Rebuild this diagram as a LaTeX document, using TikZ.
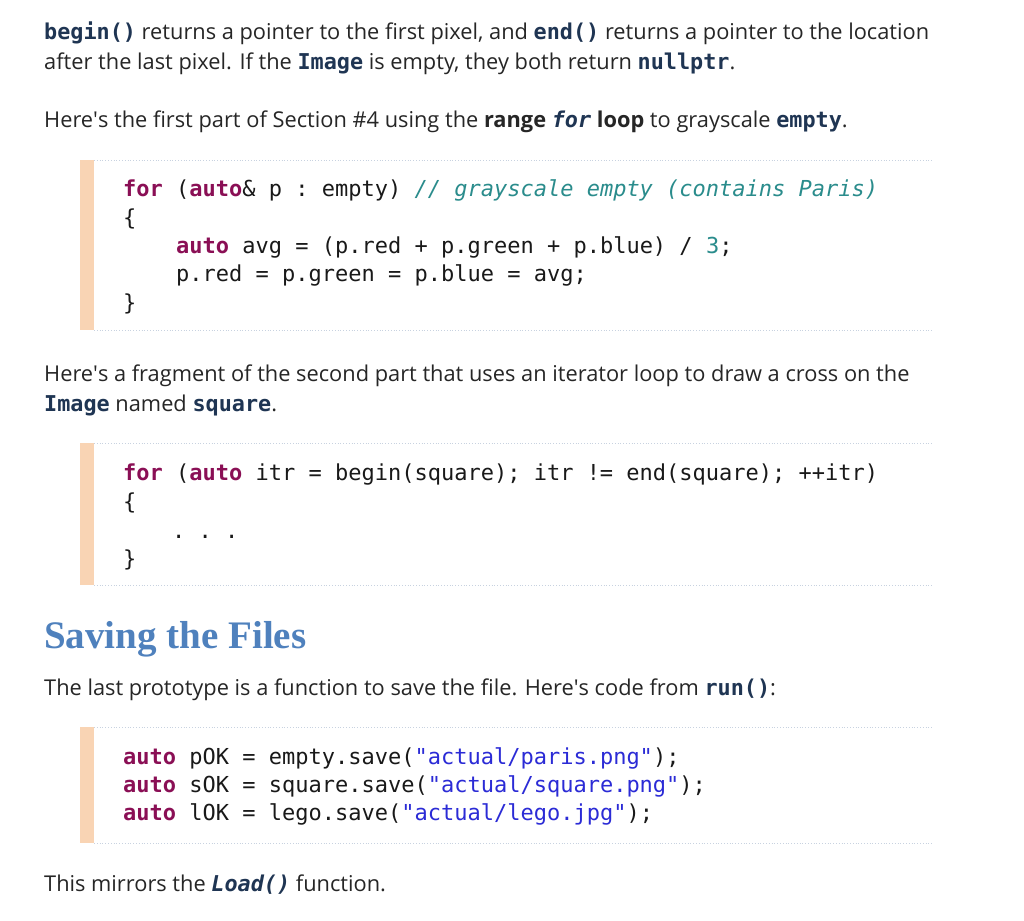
\documentclass[tikz,border=0pt]{standalone}
\usepackage{fontspec}
\setmainfont{Open Sans}
\setmonofont{DejaVu Sans Mono}
\newfontfamily\headfont{Liberation Serif}
\definecolor{kwc}{HTML}{8A0F55}
\definecolor{cmc}{HTML}{2A8C8C}
\definecolor{stc}{HTML}{2B2BD6}
\definecolor{icc}{HTML}{1F3553}
\definecolor{hdc}{HTML}{4F81BD}
\definecolor{barc}{HTML}{F9D4B4}
\definecolor{rulec}{HTML}{C8D2E0}
\newcommand{\kw}[1]{\textcolor{kwc}{\bfseries #1}}
\newcommand{\cm}[1]{\textcolor{cmc}{\itshape #1}}
\newcommand{\st}[1]{\textcolor{stc}{#1}}
\newcommand{\ic}[1]{\textcolor{icc}{\ttfamily\bfseries #1}}
\tikzset{
  body/.style={anchor=base west,inner sep=0pt,font=\fontsize{21.8}{26}\selectfont,text=black!85},
  code/.style={anchor=base west,inner sep=0pt,font=\ttfamily\fontsize{22}{26}\selectfont,text=black!90},
  bar/.style={fill=barc,draw=none},
  rul/.style={draw=rulec,line width=0.8pt,dotted},
}
\begin{document}
\begin{tikzpicture}[x=1pt,y=-1pt]
\useasboundingbox[fill=white] (0,0) rectangle (1024,920);
\node[body] (t1) at (44,40) {\ic{begin()} returns a pointer to the first pixel, and \ic{end()} returns a pointer to the location};
\node[body] (t2) at (44,70) {after the last pixel. If the \ic{Image} is empty, they both return \ic{nullptr}.};
\node[body] (t3) at (44,128) {Here\textquotesingle s the first part of Section \#4 using the \textbf{range \textcolor{icc}{\ttfamily\bfseries\itshape for} loop} to grayscale \ic{empty}.};
% box 1
\fill[bar] (80,160) rectangle (94,330);
\draw[rul] (94,160) -- (932,160);
\draw[rul] (94,330) -- (932,330);
\node[code] (c1) at (123,196) {\kw{for} (\kw{auto}\& p : empty) \cm{// grayscale empty (contains Paris)}};
\node[code] (c2) at (123,225) {\{};
\node[code] (c3) at (176,253) {\kw{auto} avg = (p.red + p.green + p.blue) / \textcolor{cmc}{3};};
\node[code] (c4) at (176,281) {p.red = p.green = p.blue = avg;};
\node[code] (c5) at (123,310) {\}};
\node[body] (t4) at (44,381) {Here\textquotesingle s a fragment of the second part that uses an iterator loop to draw a cross on the};
\node[body] (t5) at (44,411) {\ic{Image} named \ic{square}.};
% box 2
\fill[bar] (80,443) rectangle (94,585);
\draw[rul] (94,443) -- (932,443);
\draw[rul] (94,585) -- (932,585);
\node[code] (d1) at (123,480) {\kw{for} (\kw{auto} itr = begin(square); itr != end(square); ++itr)};
\node[code] (d2) at (123,509) {\{};
\node[code] (d3) at (172,538) {. . .};
\node[code] (d4) at (123,566) {\}};
\node[anchor=base west,inner sep=0pt,font=\headfont\bfseries\fontsize{39}{44}\selectfont,text=hdc] (h) at (44,648) {Saving the Files};
\node[body] (t6) at (44,695) {The last prototype is a function to save the file. Here\textquotesingle s code from \ic{run()}:};
% box 3
\fill[bar] (80,727) rectangle (94,843);
\draw[rul] (94,727) -- (932,727);
\draw[rul] (94,843) -- (932,843);
\node[code] (e1) at (123,764) {\kw{auto} pOK = empty.save(\st{"actual/paris.png"});};
\node[code] (e2) at (123,792) {\kw{auto} sOK = square.save(\st{"actual/square.png"});};
\node[code] (e3) at (123,820) {\kw{auto} lOK = lego.save(\st{"actual/lego.jpg"});};
\node[body] (t7) at (44,891) {This mirrors the \textcolor{icc}{\ttfamily\bfseries\itshape Load()} function.};
\end{tikzpicture}
\end{document}
